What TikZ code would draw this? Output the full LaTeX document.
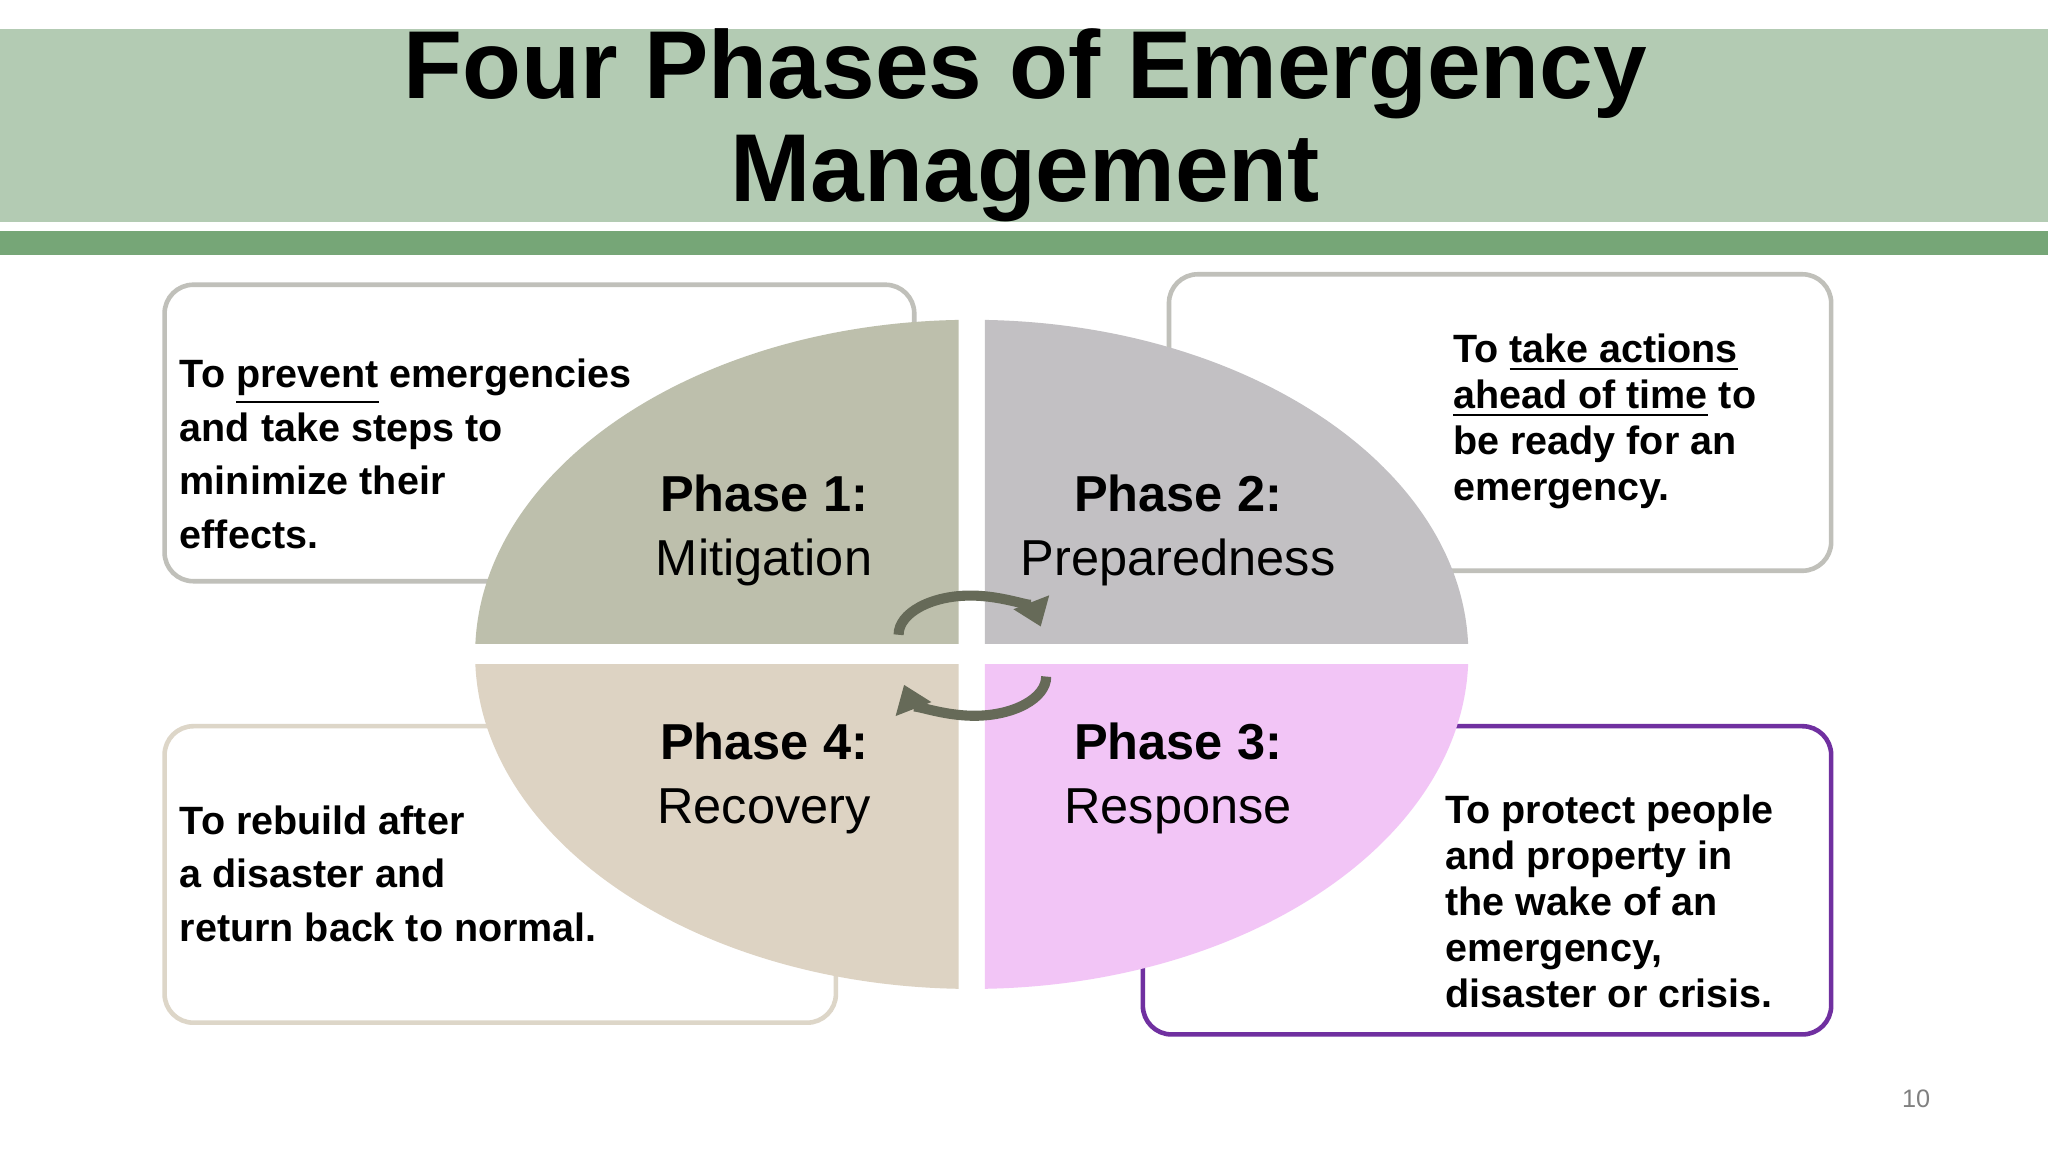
\documentclass[tikz,border=0pt]{standalone}
\usepackage{fontspec}
\setmainfont{Liberation Sans}
\usetikzlibrary{arrows.meta}
\definecolor{bandlight}{HTML}{B3CBB3}
\definecolor{banddark}{HTML}{76A677}
\definecolor{qone}{HTML}{BDBFAC}
\definecolor{qtwo}{HTML}{C2C0C3}
\definecolor{qthree}{HTML}{F2C5F6}
\definecolor{qfour}{HTML}{DDD3C3}
\definecolor{arrowc}{HTML}{666A58}
\definecolor{boxgray}{HTML}{C0C0BA}
\definecolor{boxbeige}{HTML}{DDD6C8}
\definecolor{boxpurple}{HTML}{7030A0}
\begin{document}
\begin{tikzpicture}[x=0.01cm,y=-0.01cm,
  descbox/.style={rounded corners=0.22cm,line width=1pt,fill=white},
  desc/.style={anchor=north west,inner sep=0,align=left,font=\bfseries\fontsize{8.6}{11.7}\selectfont},
  phase/.style={align=center,inner sep=0,font=\fontsize{11}{12}\selectfont}]
\useasboundingbox (0,0) rectangle (1568,882);
\fill[white] (0,0) rectangle (1568,882);
\fill[bandlight] (0,22) rectangle (1568,170);
\fill[banddark] (0,177) rectangle (1568,195);
\node[font=\bfseries\fontsize{21}{22.5}\selectfont,align=center,inner sep=0] (title) at (785,96) {Four Phases of Emergency\\Management};
% boxes
\draw[descbox,draw=boxgray] (126,218) rectangle (700,445);
\draw[descbox,draw=boxgray] (895,210) rectangle (1402,437);
\draw[descbox,draw=boxbeige] (126,556) rectangle (640,783);
\draw[descbox,draw=boxpurple] (875,556) rectangle (1402,792);
% ellipse quadrants
\begin{scope}\clip (300,200) rectangle (734,493);
\fill[qone] (744,501) ellipse [x radius=3.8cm,y radius=2.56cm];\end{scope}
\begin{scope}\clip (754,200) rectangle (1200,493);
\fill[qtwo] (744,501) ellipse [x radius=3.8cm,y radius=2.56cm];\end{scope}
\begin{scope}\clip (300,509) rectangle (734,800);
\fill[qfour] (744,501) ellipse [x radius=3.8cm,y radius=2.56cm];\end{scope}
\begin{scope}\clip (754,509) rectangle (1200,800);
\fill[qthree] (744,501) ellipse [x radius=3.8cm,y radius=2.56cm];\end{scope}
% cycle arrows
\coordinate (ua) at (688,486);
\coordinate (la) at (801,518);
\draw[arrowc,line width=2.2pt,-{Triangle[length=0.2cm,width=0.28cm]}] (ua) arc[start angle=180,end angle=12,x radius=0.55cm,y radius=0.3cm];
\draw[arrowc,line width=2.2pt,-{Triangle[length=0.2cm,width=0.28cm]}] (la) arc[start angle=0,end angle=-168,x radius=0.55cm,y radius=0.3cm];
% phase labels
\node[phase] (p1) at (585,406) {\textbf{Phase 1:}\\[2pt]Mitigation};
\node[phase] (p2) at (902,406) {\textbf{Phase 2:}\\[2pt]Preparedness};
\node[phase] (p4) at (585,596) {\textbf{Phase 4:}\\[2pt]Recovery};
\node[phase] (p3) at (902,596) {\textbf{Phase 3:}\\[2pt]Response};
% descriptions
\node[desc] (d1) at (137,274) {To \underline{prevent} emergencies\\and take steps to\\minimize their\\effects.};
\node[desc,font=\bfseries\fontsize{8.6}{10}\selectfont] (d2) at (1112,255) {To \underline{take actions}\\\underline{ahead of time} to\\be ready for an\\emergency.};
\node[desc] (d4) at (137,616) {To rebuild after\\a disaster and\\return back to normal.};
\node[desc,font=\bfseries\fontsize{8.6}{10}\selectfont] (d3) at (1106,608) {To protect people\\and property in\\the wake of an\\emergency,\\disaster or crisis.};
\node[text=gray,font=\fontsize{5.5}{6}\selectfont] (pg) at (1467,841) {10};
\end{tikzpicture}
\end{document}
